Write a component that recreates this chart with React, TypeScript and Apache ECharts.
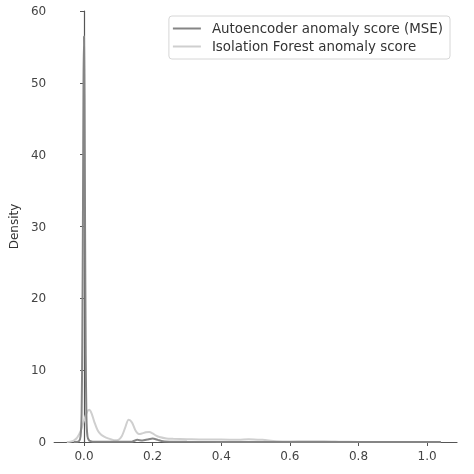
import React, { useEffect, useRef } from "react";
import * as echarts from "echarts";

const aeX = [-0.03, -0.015, -0.01, -0.007, -0.005, -0.003, -0.0015, 0, 0.0015, 0.003, 0.005, 0.007, 0.01, 0.015, 0.025, 0.05, 0.1, 0.14, 0.155, 0.17, 0.185, 0.2, 0.215, 0.23, 0.26, 0.3, 0.5, 1.0, 1.04];
const aeY = [0, 0.1, 0.8, 4, 14, 33, 50, 56.5, 48, 30, 12, 3.5, 0.8, 0.2, 0.05, 0.02, 0.02, 0.05, 0.3, 0.2, 0.35, 0.5, 0.3, 0.1, 0.03, 0.02, 0.01, 0.01, 0];

const ifX = [-0.05, -0.04, -0.03, -0.02, -0.01, 0, 0.008, 0.015, 0.022, 0.03, 0.04, 0.05, 0.06, 0.07, 0.08, 0.09, 0.1, 0.11, 0.12, 0.13, 0.14, 0.15, 0.16, 0.17, 0.18, 0.19, 0.2, 0.21, 0.22, 0.24, 0.26, 0.3, 0.35, 0.4, 0.45, 0.48, 0.52, 0.56, 0.6, 0.65, 0.7, 0.75, 0.8];
const ifY = [0, 0.05, 0.2, 0.6, 1.5, 3.0, 4.1, 4.5, 4.0, 2.8, 1.6, 1.0, 0.7, 0.5, 0.35, 0.25, 0.3, 0.8, 2.0, 3.1, 2.7, 1.6, 1.1, 1.2, 1.35, 1.4, 1.2, 0.9, 0.7, 0.5, 0.45, 0.4, 0.35, 0.35, 0.3, 0.4, 0.3, 0.12, 0.08, 0.1, 0.12, 0.05, 0];

const xTicks = [0, 0.2, 0.4, 0.6, 0.8, 1.0];
const seriesNames = ["Autoencoder anomaly score (MSE)", "Isolation Forest anomaly score"];
const colors = ["#858585", "#cfcfcf"];

export default function App() {
  const ref = useRef<HTMLDivElement>(null);
  useEffect(() => {
    if (!ref.current) return;
    const chart = echarts.init(ref.current, null, { renderer: "svg" });
    const font = "DejaVu Sans";
    const axisColor = "#555";
    chart.setOption({
      animation: false,
      textStyle: { fontFamily: font },
      grid: { left: 53, top: 11, width: 404, height: 431, containLabel: false },
      legend: {
        orient: "vertical",
        right: 24,
        top: 16,
        data: seriesNames,
        icon: "rect",
        itemWidth: 28,
        itemHeight: 2,
        itemGap: 5,
        padding: [6, 7, 6, 4],
        borderColor: "#d6d6d6",
        borderWidth: 1,
        borderRadius: 3,
        textStyle: { fontFamily: font, fontSize: 13.4, color: "#333", padding: [0, 0, 0, 6] },
      },
      xAxis: {
        type: "value",
        min: -0.087,
        max: 1.087,
        splitLine: { show: false },
        axisLine: { show: true, onZero: false, lineStyle: { color: axisColor, width: 1.2 } },
        axisTick: { show: true, length: 4, customValues: xTicks, lineStyle: { color: axisColor } },
        axisLabel: {
          customValues: xTicks,
          formatter: (v: number) => v.toFixed(1),
          fontFamily: font,
          fontSize: 12,
          color: "#444",
          margin: 8,
        },
      },
      yAxis: {
        type: "value",
        min: 0,
        max: 60,
        interval: 10,
        name: "Density",
        nameLocation: "middle",
        nameGap: 34,
        nameTextStyle: { fontFamily: font, fontSize: 12, color: "#333" },
        splitLine: { show: false },
        axisLine: { show: true, lineStyle: { color: axisColor, width: 1.2 } },
        axisTick: { show: true, length: 4, lineStyle: { color: axisColor } },
        axisLabel: { fontFamily: font, fontSize: 12, color: "#444", margin: 8 },
      },
      series: [
        {
          name: seriesNames[1],
          type: "line",
          data: ifX.map((x, i) => [x, ifY[i]]),
          showSymbol: false,
          smooth: 0.3,
          lineStyle: { color: colors[1], width: 2 },
          itemStyle: { color: colors[1] },
          z: 2,
        },
        {
          name: seriesNames[0],
          type: "line",
          data: aeX.map((x, i) => [x, aeY[i]]),
          showSymbol: false,
          smooth: 0.2,
          lineStyle: { color: colors[0], width: 2 },
          itemStyle: { color: colors[0] },
          z: 3,
        },
      ],
    });
    return () => chart.dispose();
  }, []);
  return <div ref={ref} style={{ position: "fixed", left: 0, top: 0, width: 474, height: 474 }} />;
}
